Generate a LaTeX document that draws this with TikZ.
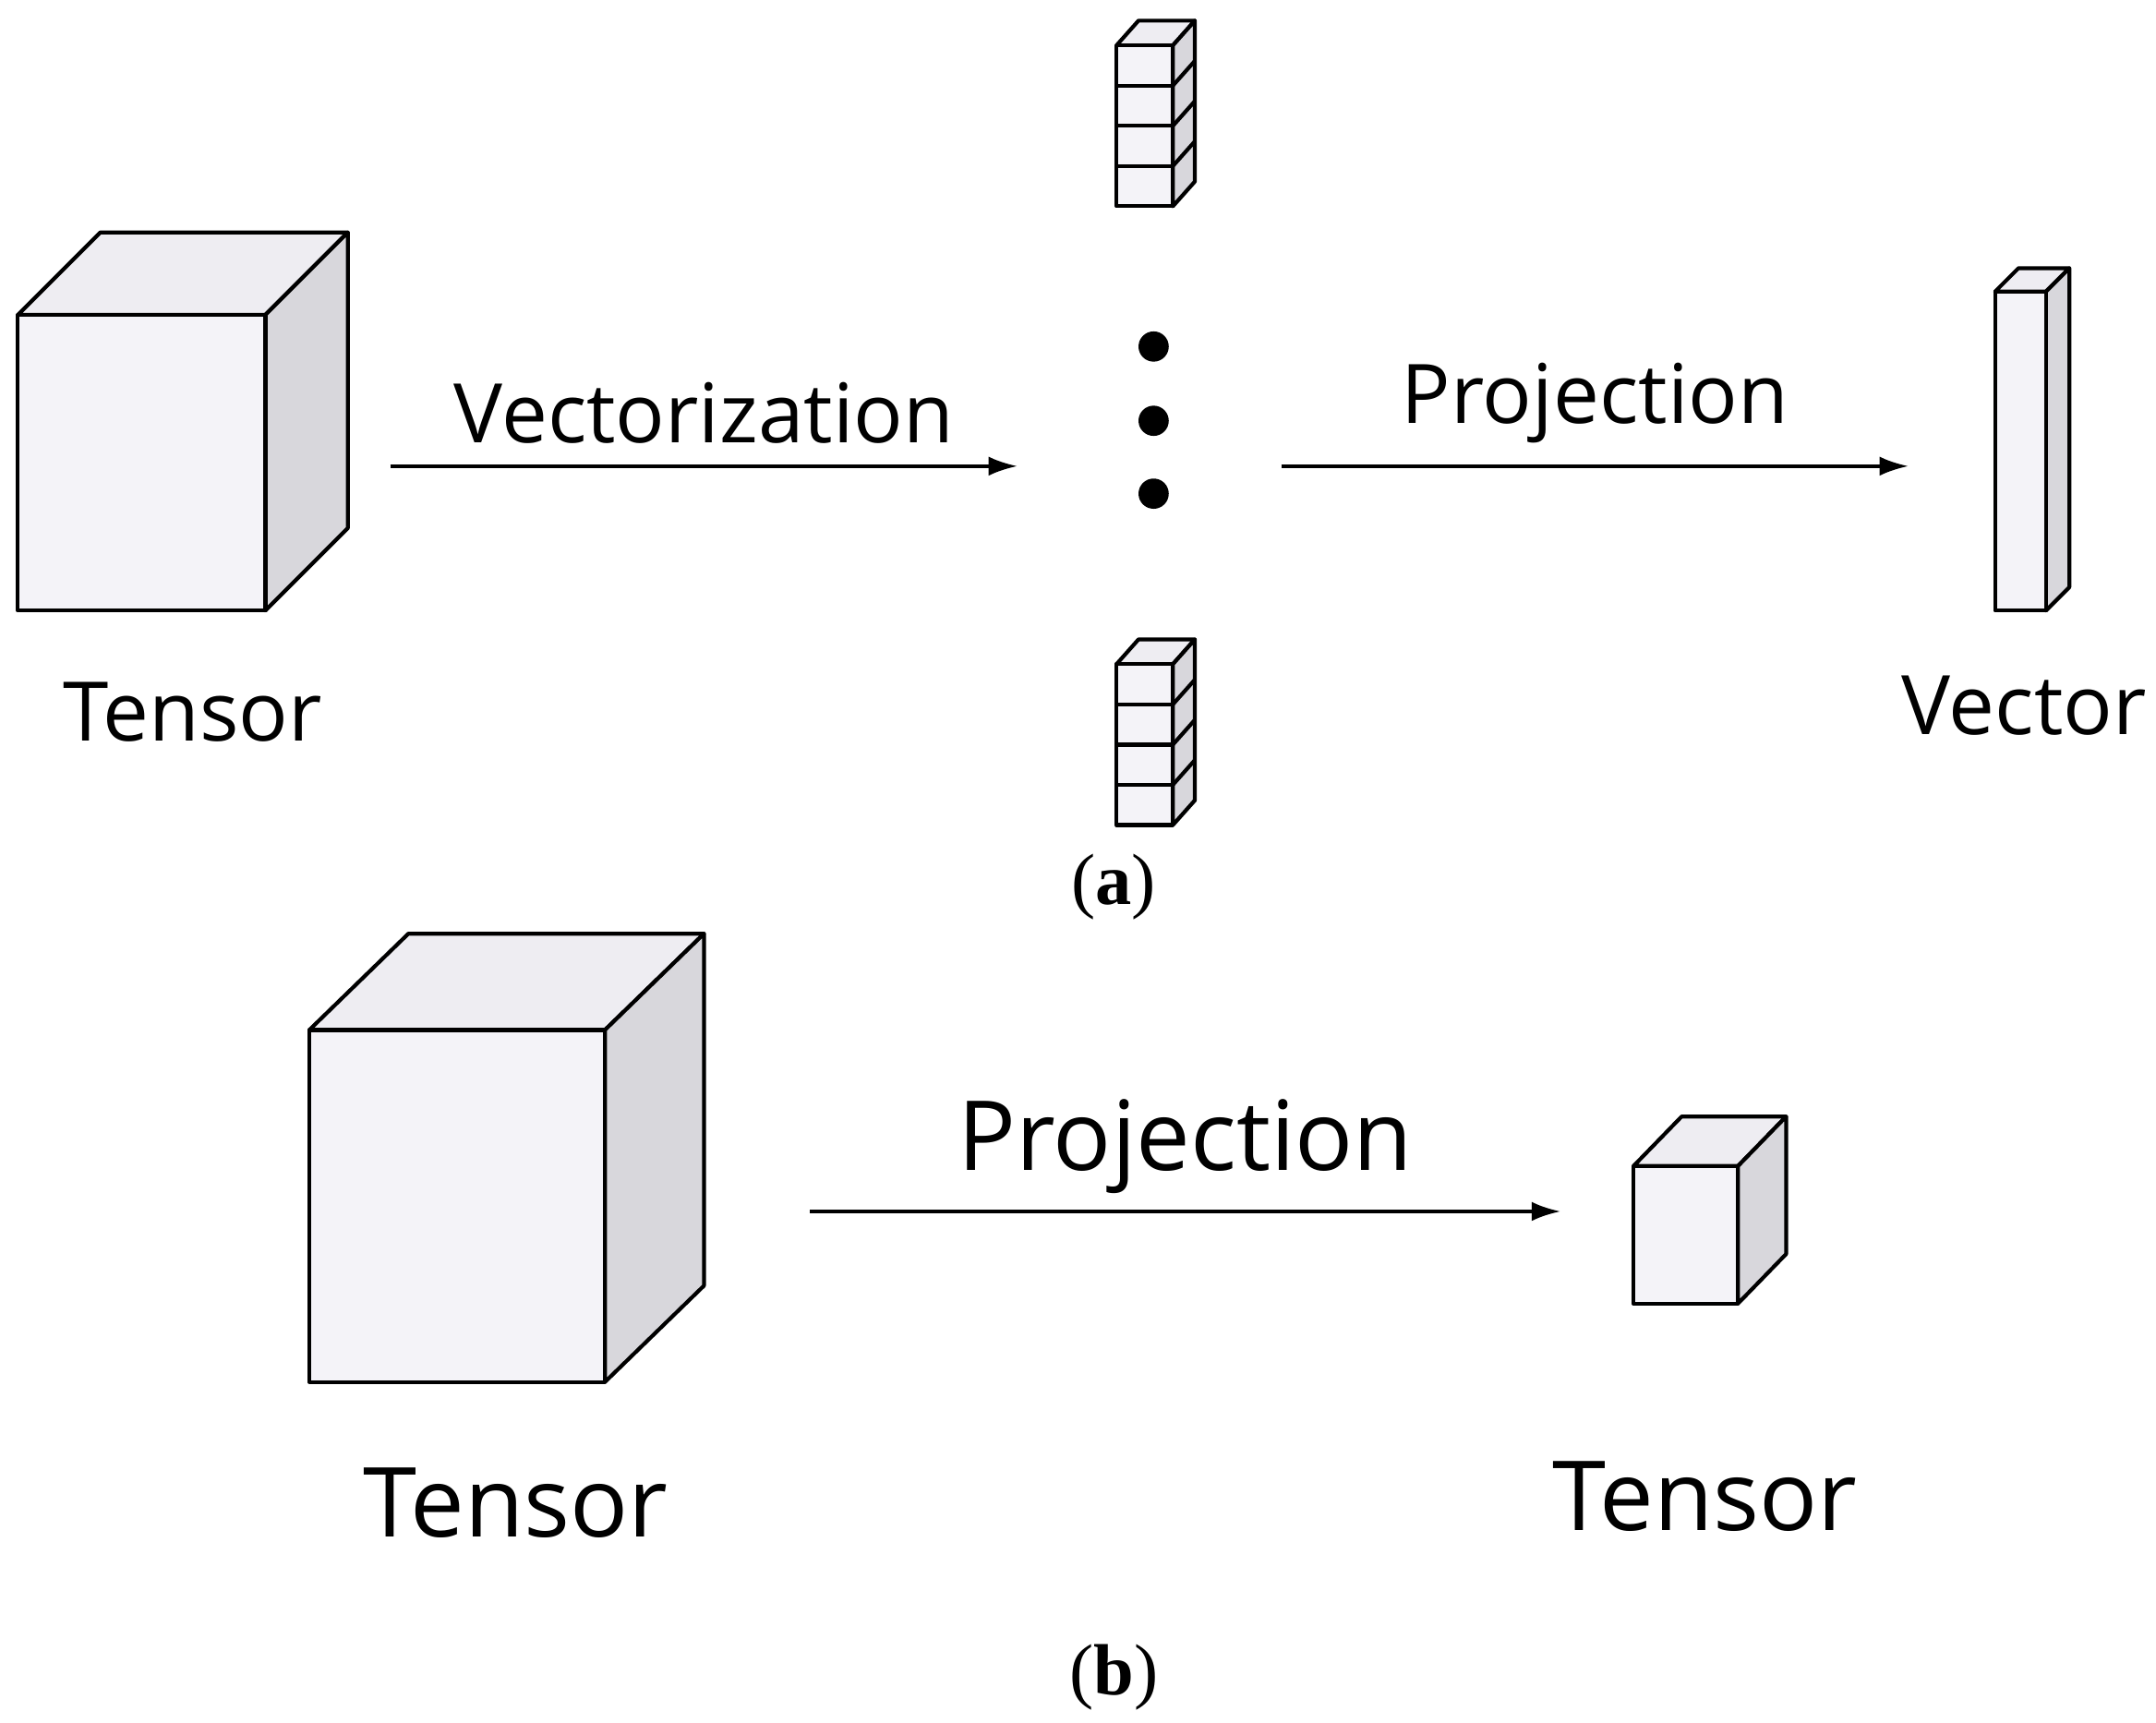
\documentclass[tikz,border=0pt]{standalone}
\usepackage{fontspec}
\setmainfont{Open Sans}
\newfontfamily\capfont{Liberation Serif}
\usetikzlibrary{positioning,arrows.meta}
\definecolor{frontgray}{RGB}{244,243,248}
\definecolor{sidegray}{RGB}{216,215,220}
\definecolor{topgray}{RGB}{238,237,242}
\begin{document}
\begin{tikzpicture}[x=0.01cm,y=-0.01cm,
  face/.style={draw=black,line width=0.8pt,line join=round},
  flow/.style={-{Latex[length=6pt,width=4pt]},line width=0.7pt},
  lab/.style={font=\fontsize{17}{20}\selectfont},
  biglab/.style={font=\fontsize{20}{24}\selectfont},
  sublab/.style={font=\capfont\fontsize{15}{18}\selectfont}]
\useasboundingbox (0,0) rectangle (1568,1253);

% (a)
\draw[face,fill=topgray] (13,229) -- (73,169) -- (253,169) -- (193,229) -- cycle;
\draw[face,fill=sidegray] (193,229) -- (253,169) -- (253,384) -- (193,444) -- cycle;
\draw[face,fill=frontgray] (13,229) rectangle (193,444);
\node[lab] (tensA) at (140,518) {Tensor};

\coordinate (vecS) at (284,339);
\coordinate (vecE) at (740,339);
\draw[flow] (vecS) -- (vecE) node[lab,midway,above=1pt] (vecL) {Vectorization};

\foreach \y in {15,465}{
  \draw[face,fill=topgray] (812,\y+18) -- (828,\y) -- (869,\y) -- (853,\y+18) -- cycle;
  \draw[face,fill=sidegray] (853,\y+18) -- (869,\y) -- (869,\y+117) -- (853,\y+135) -- cycle;
  \foreach \k in {0,1,2,3}
    \draw[face,fill=frontgray] (812,\y+18+\k*29.25) rectangle (853,\y+18+\k*29.25+29.25);
  \foreach \k in {1,2,3}
    \draw[face] (853,\y+18+\k*29.25) -- (869,\y+\k*29.25);
}
\foreach \y [count=\i] in {252,306,359}
  \fill (839,\y) circle (11) coordinate (dot\i);

\coordinate (prjS) at (932,339);
\coordinate (prjE) at (1388,339);
\draw[flow] (prjS) -- (prjE) node[lab,midway,above=1pt] (prjL) {Projection};

\draw[face,fill=topgray] (1451,212) -- (1468,195) -- (1505,195) -- (1488,212) -- cycle;
\draw[face,fill=sidegray] (1488,212) -- (1505,195) -- (1505,427) -- (1488,444) -- cycle;
\draw[face,fill=frontgray] (1451,212) rectangle (1488,444);
\node[lab] (vect) at (1472,513) {Vector};
\node[sublab] (capA) at (810,645) {(\textbf{a})};

% (b)
\draw[face,fill=topgray] (225,749) -- (297,679) -- (512,679) -- (440,749) -- cycle;
\draw[face,fill=sidegray] (440,749) -- (512,679) -- (512,935) -- (440,1005) -- cycle;
\draw[face,fill=frontgray] (225,749) rectangle (440,1005);
\node[biglab] (tensB) at (375,1093) {Tensor};

\coordinate (prjbS) at (589,881);
\coordinate (prjbE) at (1135,881);
\draw[flow] (prjbS) -- (prjbE) node[biglab,midway,above=0pt] (prjbL) {Projection};

\draw[face,fill=topgray] (1188,848) -- (1223,812) -- (1299,812) -- (1264,848) -- cycle;
\draw[face,fill=sidegray] (1264,848) -- (1299,812) -- (1299,912) -- (1264,948) -- cycle;
\draw[face,fill=frontgray] (1188,848) rectangle (1264,948);
\node[biglab] (tensC) at (1240,1088) {Tensor};
\node[sublab] (capB) at (810,1220) {(\textbf{b})};
\end{tikzpicture}
\end{document}
